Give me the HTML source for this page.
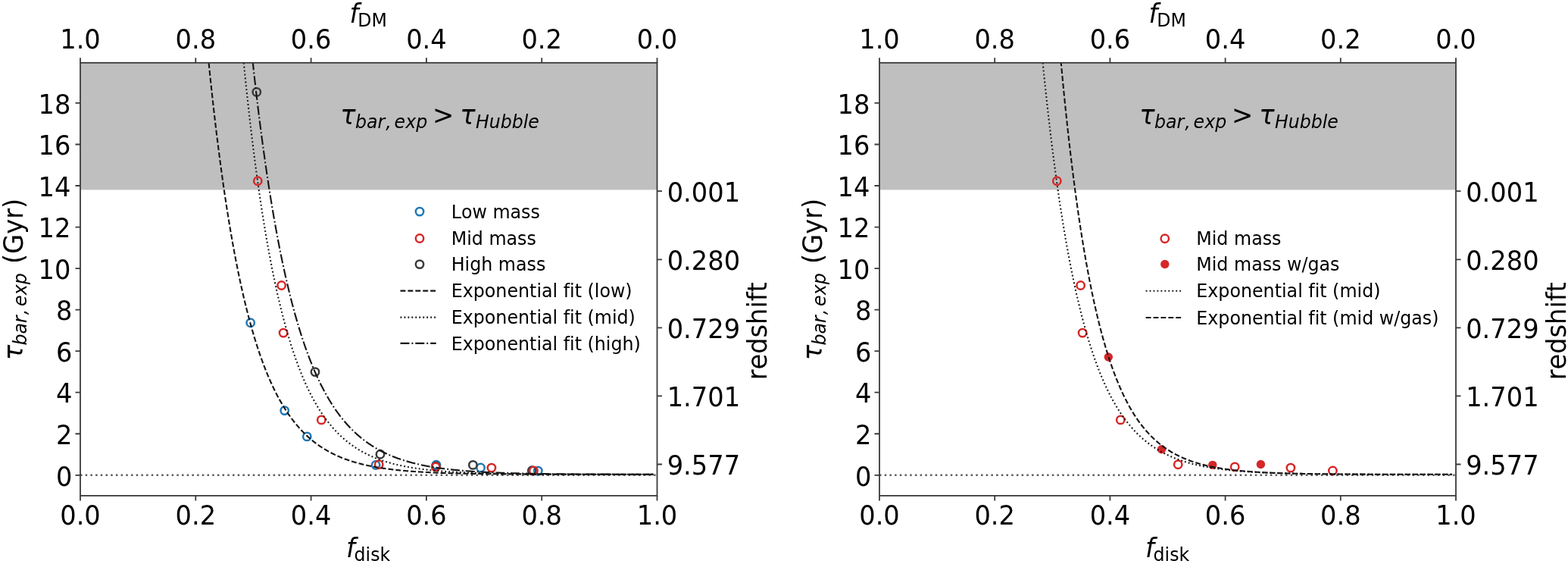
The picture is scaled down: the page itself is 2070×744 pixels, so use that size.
<!DOCTYPE html>
<html><head><meta charset="utf-8"><title>Bar formation timescale</title>
<style>
html,body{margin:0;padding:0;background:#fff;}
body{width:2070px;height:744px;overflow:hidden;}
svg{display:block;font-family:'DejaVu Sans','Liberation Sans',sans-serif;font-variant-ligatures:none;font-kerning:none;}
</style></head><body>
<svg xmlns="http://www.w3.org/2000/svg" width="2070" height="744" viewBox="0 0 2070 744">
<rect width="2070" height="744" fill="#fff"/>
<clipPath id="c0"><rect x="106.00" y="82.80" width="761.50" height="571.10"/></clipPath>
<rect x="106.00" y="82.80" width="761.50" height="167.60" fill="#bfbfbf"/>
<g clip-path="url(#c0)" fill="none">
<path d="M106.00 626.80 H867.50" stroke="#5e5e5e" stroke-width="2.4" stroke-dasharray="2.53 4.17"/>
<circle cx="330.70" cy="425.70" r="5.20" stroke="#1f77b4" stroke-width="2.50"/>
<circle cx="375.70" cy="541.60" r="5.20" stroke="#1f77b4" stroke-width="2.50"/>
<circle cx="405.30" cy="575.90" r="5.20" stroke="#1f77b4" stroke-width="2.50"/>
<circle cx="496.10" cy="613.50" r="5.20" stroke="#1f77b4" stroke-width="2.50"/>
<circle cx="575.90" cy="613.20" r="5.20" stroke="#1f77b4" stroke-width="2.50"/>
<circle cx="634.50" cy="617.00" r="5.20" stroke="#1f77b4" stroke-width="2.50"/>
<circle cx="710.30" cy="621.10" r="5.20" stroke="#1f77b4" stroke-width="2.50"/>
<circle cx="338.80" cy="121.40" r="5.20" stroke="#3a3a3a" stroke-width="2.50"/>
<circle cx="416.00" cy="490.60" r="5.20" stroke="#3a3a3a" stroke-width="2.50"/>
<circle cx="502.00" cy="599.20" r="5.20" stroke="#3a3a3a" stroke-width="2.50"/>
<circle cx="575.50" cy="615.20" r="5.20" stroke="#3a3a3a" stroke-width="2.50"/>
<circle cx="624.40" cy="613.40" r="5.20" stroke="#3a3a3a" stroke-width="2.50"/>
<circle cx="702.30" cy="620.80" r="5.20" stroke="#3a3a3a" stroke-width="2.50"/>
<circle cx="340.30" cy="238.70" r="5.20" stroke="#d62728" stroke-width="2.50"/>
<circle cx="371.60" cy="376.50" r="5.20" stroke="#d62728" stroke-width="2.50"/>
<circle cx="374.10" cy="439.10" r="5.20" stroke="#d62728" stroke-width="2.50"/>
<circle cx="424.30" cy="553.90" r="5.20" stroke="#d62728" stroke-width="2.50"/>
<circle cx="500.20" cy="612.70" r="5.20" stroke="#d62728" stroke-width="2.50"/>
<circle cx="575.20" cy="615.90" r="5.20" stroke="#d62728" stroke-width="2.50"/>
<circle cx="648.90" cy="617.10" r="5.20" stroke="#d62728" stroke-width="2.50"/>
<circle cx="704.40" cy="621.00" r="5.20" stroke="#d62728" stroke-width="2.50"/>
<path d="M269.04 13.99 L270.33 28.18 L271.61 42.03 L272.90 55.56 L274.18 68.78 L275.46 81.69 L276.75 94.30 L278.03 106.62 L279.32 118.65 L280.60 130.41 L281.89 141.89 L283.17 153.11 L284.46 164.06 L285.74 174.76 L287.03 185.22 L288.31 195.43 L289.60 205.41 L290.88 215.15 L292.17 224.67 L293.45 233.97 L294.73 243.05 L296.02 251.92 L297.30 260.59 L298.59 269.05 L299.87 277.32 L301.16 285.40 L302.44 293.29 L303.73 301.00 L305.01 308.53 L306.30 315.88 L307.58 323.06 L308.87 330.08 L310.15 336.94 L311.44 343.63 L312.72 350.17 L314.00 356.56 L315.29 362.80 L316.57 368.90 L317.86 374.86 L319.14 380.67 L320.43 386.35 L321.71 391.90 L323.00 397.33 L324.28 402.62 L325.57 407.80 L326.85 412.85 L328.14 417.79 L329.42 422.61 L330.70 427.32 L331.99 431.92 L333.27 436.41 L334.56 440.81 L335.84 445.09 L337.13 449.28 L338.41 453.38 L339.70 457.37 L340.98 461.28 L342.27 465.09 L343.55 468.82 L344.84 472.46 L346.12 476.01 L347.41 479.48 L348.69 482.88 L349.97 486.19 L351.26 489.43 L352.54 492.59 L353.83 495.68 L355.11 498.69 L356.40 501.64 L357.68 504.52 L358.97 507.33 L360.25 510.08 L361.54 512.76 L362.82 515.38 L364.11 517.94 L365.39 520.44 L366.68 522.89 L367.96 525.27 L369.24 527.60 L370.53 529.88 L371.81 532.10 L373.10 534.28 L374.38 536.40 L375.67 538.47 L376.95 540.50 L378.24 542.47 L379.52 544.41 L380.81 546.29 L382.09 548.14 L383.38 549.94 L384.66 551.70 L385.94 553.42 L387.23 555.10 L388.51 556.74 L389.80 558.34 L391.08 559.90 L392.37 561.43 L393.65 562.92 L394.94 564.38 L396.22 565.81 L397.51 567.20 L398.79 568.56 L400.08 569.88 L401.36 571.18 L402.65 572.45 L403.93 573.69 L405.21 574.89 L406.50 576.08 L407.78 577.23 L409.07 578.36 L410.35 579.46 L411.64 580.53 L412.92 581.58 L414.21 582.61 L415.49 583.61 L416.78 584.59 L418.06 585.54 L419.35 586.48 L420.63 587.39 L421.92 588.28 L423.20 589.15 L424.48 590.00 L425.77 590.83 L427.05 591.65 L428.34 592.44 L429.62 593.21 L430.91 593.97 L432.19 594.71 L433.48 595.43 L434.76 596.13 L436.05 596.82 L437.33 597.50 L438.62 598.15 L439.90 598.79 L441.18 599.42 L442.47 600.03 L443.75 600.63 L445.04 601.22 L446.32 601.79 L447.61 602.34 L448.89 602.89 L450.18 603.42 L451.46 603.94 L452.75 604.45 L454.03 604.94 L455.32 605.43 L456.60 605.90 L457.89 606.36 L459.17 606.82 L460.45 607.26 L461.74 607.69 L463.02 608.11 L464.31 608.52 L465.59 608.92 L466.88 609.31 L468.16 609.70 L469.45 610.07 L470.73 610.44 L472.02 610.79 L473.30 611.14 L474.59 611.48 L475.87 611.82 L477.16 612.14 L478.44 612.46 L479.72 612.77 L481.01 613.07 L482.29 613.37 L483.58 613.66 L484.86 613.94 L486.15 614.22 L487.43 614.49 L488.72 614.75 L490.00 615.01 L491.29 615.26 L492.57 615.50 L493.86 615.74 L495.14 615.98 L496.42 616.21 L497.71 616.43 L498.99 616.65 L500.28 616.86 L501.56 617.07 L502.85 617.27 L504.13 617.47 L505.42 617.66 L506.70 617.85 L507.99 618.04 L509.27 618.22 L510.56 618.40 L511.84 618.57 L513.13 618.74 L514.41 618.90 L515.69 619.06 L516.98 619.22 L518.26 619.37 L519.55 619.52 L520.83 619.67 L522.12 619.81 L523.40 619.95 L524.69 620.09 L525.97 620.22 L527.26 620.35 L528.54 620.48 L529.83 620.61 L531.11 620.73 L532.40 620.85 L533.68 620.96 L534.96 621.07 L536.25 621.19 L537.53 621.29 L538.82 621.40 L540.10 621.50 L541.39 621.60 L542.67 621.70 L543.96 621.80 L545.24 621.89 L546.53 621.98 L547.81 622.07 L549.10 622.16 L550.38 622.24 L551.66 622.33 L552.95 622.41 L554.23 622.49 L555.52 622.57 L556.80 622.64 L558.09 622.72 L559.37 622.79 L560.66 622.86 L561.94 622.93 L563.23 623.00 L564.51 623.06 L565.80 623.13 L567.08 623.19 L568.37 623.25 L569.65 623.31 L570.93 623.37 L572.22 623.43 L573.50 623.48 L574.79 623.54 L576.07 623.59 L577.36 623.65 L578.64 623.70 L579.93 623.75 L581.21 623.79 L582.50 623.84 L583.78 623.89 L585.07 623.93 L586.35 623.98 L587.64 624.02 L588.92 624.06 L590.20 624.11 L591.49 624.15 L592.77 624.18 L594.06 624.22 L595.34 624.26 L596.63 624.30 L597.91 624.33 L599.20 624.37 L600.48 624.40 L601.77 624.44 L603.05 624.47 L604.34 624.50 L605.62 624.53 L606.90 624.56 L608.19 624.59 L609.47 624.62 L610.76 624.65 L612.04 624.68 L613.33 624.70 L614.61 624.73 L615.90 624.76 L617.18 624.78 L618.47 624.81 L619.75 624.83 L621.04 624.85 L622.32 624.88 L623.61 624.90 L624.89 624.92 L626.17 624.94 L627.46 624.96 L628.74 624.98 L630.03 625.00 L631.31 625.02 L632.60 625.04 L633.88 625.06 L635.17 625.08 L636.45 625.10 L637.74 625.11 L639.02 625.13 L640.31 625.15 L641.59 625.16 L642.88 625.18 L644.16 625.20 L645.44 625.21 L646.73 625.23 L648.01 625.24 L649.30 625.25 L650.58 625.27 L651.87 625.28 L653.15 625.29 L654.44 625.31 L655.72 625.32 L657.01 625.33 L658.29 625.34 L659.58 625.35 L660.86 625.37 L662.14 625.38 L663.43 625.39 L664.71 625.40 L666.00 625.41 L667.28 625.42 L668.57 625.43 L669.85 625.44 L671.14 625.45 L672.42 625.46 L673.71 625.47 L674.99 625.48 L676.28 625.48 L677.56 625.49 L678.85 625.50 L680.13 625.51 L681.41 625.52 L682.70 625.52 L683.98 625.53 L685.27 625.54 L686.55 625.55 L687.84 625.55 L689.12 625.56 L690.41 625.57 L691.69 625.57 L692.98 625.58 L694.26 625.59 L695.55 625.59 L696.83 625.60 L698.11 625.60 L699.40 625.61 L700.68 625.61 L701.97 625.62 L703.25 625.62 L704.54 625.63 L705.82 625.63 L707.11 625.64 L708.39 625.64 L709.68 625.65 L710.96 625.65 L712.25 625.66 L713.53 625.66 L714.82 625.67 L716.10 625.67 L717.38 625.67 L718.67 625.68 L719.95 625.68 L721.24 625.69 L722.52 625.69 L723.81 625.69 L725.09 625.70 L726.38 625.70 L727.66 625.70 L728.95 625.71 L730.23 625.71 L731.52 625.71 L732.80 625.72 L734.09 625.72 L735.37 625.72 L736.65 625.73 L737.94 625.73 L739.22 625.73 L740.51 625.73 L741.79 625.74 L743.08 625.74 L744.36 625.74 L745.65 625.74 L746.93 625.75 L748.22 625.75 L749.50 625.75 L750.79 625.75 L752.07 625.75 L753.35 625.76 L754.64 625.76 L755.92 625.76 L757.21 625.76 L758.49 625.76 L759.78 625.77 L761.06 625.77 L762.35 625.77 L763.63 625.77 L764.92 625.77 L766.20 625.78 L767.49 625.78 L768.77 625.78 L770.06 625.78 L771.34 625.78 L772.62 625.78 L773.91 625.78 L775.19 625.79 L776.48 625.79 L777.76 625.79 L779.05 625.79 L780.33 625.79 L781.62 625.79 L782.90 625.79 L784.19 625.80 L785.47 625.80 L786.76 625.80 L788.04 625.80 L789.33 625.80 L790.61 625.80 L791.89 625.80 L793.18 625.80 L794.46 625.80 L795.75 625.80 L797.03 625.81 L798.32 625.81 L799.60 625.81 L800.89 625.81 L802.17 625.81 L803.46 625.81 L804.74 625.81 L806.03 625.81 L807.31 625.81 L808.59 625.81 L809.88 625.81 L811.16 625.81 L812.45 625.82 L813.73 625.82 L815.02 625.82 L816.30 625.82 L817.59 625.82 L818.87 625.82 L820.16 625.82 L821.44 625.82 L822.73 625.82 L824.01 625.82 L825.30 625.82 L826.58 625.82 L827.86 625.82 L829.15 625.82 L830.43 625.82 L831.72 625.82 L833.00 625.82 L834.29 625.83 L835.57 625.83 L836.86 625.83 L838.14 625.83 L839.43 625.83 L840.71 625.83 L842.00 625.83 L843.28 625.83 L844.57 625.83 L845.85 625.83 L847.13 625.83 L848.42 625.83 L849.70 625.83 L850.99 625.83 L852.27 625.83 L853.56 625.83 L854.84 625.83 L856.13 625.83 L857.41 625.83 L858.70 625.83 L859.98 625.83 L861.27 625.83 L862.55 625.83" stroke="#151515" stroke-width="2.10" stroke-dasharray="6.92 2.99"/>
<path d="M315.29 13.60 L316.57 27.99 L317.86 42.04 L319.14 55.76 L320.43 69.17 L321.71 82.25 L323.00 95.03 L324.28 107.51 L325.57 119.69 L326.85 131.59 L328.14 143.21 L329.42 154.55 L330.70 165.63 L331.99 176.45 L333.27 187.01 L334.56 197.33 L335.84 207.40 L337.13 217.23 L338.41 226.84 L339.70 236.22 L340.98 245.38 L342.27 254.32 L343.55 263.05 L344.84 271.58 L346.12 279.91 L347.41 288.04 L348.69 295.98 L349.97 303.73 L351.26 311.31 L352.54 318.70 L353.83 325.92 L355.11 332.97 L356.40 339.85 L357.68 346.58 L358.97 353.14 L360.25 359.55 L361.54 365.81 L362.82 371.92 L364.11 377.89 L365.39 383.72 L366.68 389.41 L367.96 394.97 L369.24 400.40 L370.53 405.70 L371.81 410.87 L373.10 415.92 L374.38 420.86 L375.67 425.68 L376.95 430.38 L378.24 434.98 L379.52 439.46 L380.81 443.84 L382.09 448.12 L383.38 452.30 L384.66 456.38 L385.94 460.36 L387.23 464.25 L388.51 468.05 L389.80 471.76 L391.08 475.38 L392.37 478.92 L393.65 482.37 L394.94 485.74 L396.22 489.04 L397.51 492.25 L398.79 495.39 L400.08 498.46 L401.36 501.45 L402.65 504.38 L403.93 507.23 L405.21 510.02 L406.50 512.74 L407.78 515.40 L409.07 518.00 L410.35 520.53 L411.64 523.01 L412.92 525.43 L414.21 527.79 L415.49 530.09 L416.78 532.34 L418.06 534.54 L419.35 536.69 L420.63 538.78 L421.92 540.83 L423.20 542.83 L424.48 544.78 L425.77 546.68 L427.05 548.55 L428.34 550.36 L429.62 552.14 L430.91 553.87 L432.19 555.56 L433.48 557.21 L434.76 558.83 L436.05 560.40 L437.33 561.94 L438.62 563.44 L439.90 564.91 L441.18 566.34 L442.47 567.74 L443.75 569.11 L445.04 570.44 L446.32 571.74 L447.61 573.01 L448.89 574.26 L450.18 575.47 L451.46 576.65 L452.75 577.81 L454.03 578.94 L455.32 580.04 L456.60 581.12 L457.89 582.17 L459.17 583.20 L460.45 584.20 L461.74 585.18 L463.02 586.13 L464.31 587.07 L465.59 587.98 L466.88 588.87 L468.16 589.74 L469.45 590.59 L470.73 591.41 L472.02 592.22 L473.30 593.01 L474.59 593.79 L475.87 594.54 L477.16 595.28 L478.44 595.99 L479.72 596.70 L481.01 597.38 L482.29 598.05 L483.58 598.70 L484.86 599.34 L486.15 599.96 L487.43 600.57 L488.72 601.17 L490.00 601.75 L491.29 602.31 L492.57 602.87 L493.86 603.41 L495.14 603.93 L496.42 604.45 L497.71 604.95 L498.99 605.44 L500.28 605.92 L501.56 606.39 L502.85 606.85 L504.13 607.30 L505.42 607.73 L506.70 608.16 L507.99 608.57 L509.27 608.98 L510.56 609.38 L511.84 609.76 L513.13 610.14 L514.41 610.51 L515.69 610.87 L516.98 611.22 L518.26 611.57 L519.55 611.90 L520.83 612.23 L522.12 612.55 L523.40 612.86 L524.69 613.17 L525.97 613.47 L527.26 613.76 L528.54 614.04 L529.83 614.32 L531.11 614.59 L532.40 614.85 L533.68 615.11 L534.96 615.36 L536.25 615.61 L537.53 615.85 L538.82 616.09 L540.10 616.32 L541.39 616.54 L542.67 616.76 L543.96 616.97 L545.24 617.18 L546.53 617.38 L547.81 617.58 L549.10 617.78 L550.38 617.97 L551.66 618.15 L552.95 618.33 L554.23 618.51 L555.52 618.68 L556.80 618.85 L558.09 619.01 L559.37 619.18 L560.66 619.33 L561.94 619.49 L563.23 619.63 L564.51 619.78 L565.80 619.92 L567.08 620.06 L568.37 620.20 L569.65 620.33 L570.93 620.46 L572.22 620.59 L573.50 620.71 L574.79 620.83 L576.07 620.95 L577.36 621.06 L578.64 621.18 L579.93 621.29 L581.21 621.39 L582.50 621.50 L583.78 621.60 L585.07 621.70 L586.35 621.80 L587.64 621.89 L588.92 621.99 L590.20 622.08 L591.49 622.17 L592.77 622.25 L594.06 622.34 L595.34 622.42 L596.63 622.50 L597.91 622.58 L599.20 622.65 L600.48 622.73 L601.77 622.80 L603.05 622.87 L604.34 622.94 L605.62 623.01 L606.90 623.08 L608.19 623.14 L609.47 623.21 L610.76 623.27 L612.04 623.33 L613.33 623.39 L614.61 623.45 L615.90 623.50 L617.18 623.56 L618.47 623.61 L619.75 623.66 L621.04 623.72 L622.32 623.77 L623.61 623.81 L624.89 623.86 L626.17 623.91 L627.46 623.95 L628.74 624.00 L630.03 624.04 L631.31 624.09 L632.60 624.13 L633.88 624.17 L635.17 624.21 L636.45 624.24 L637.74 624.28 L639.02 624.32 L640.31 624.36 L641.59 624.39 L642.88 624.42 L644.16 624.46 L645.44 624.49 L646.73 624.52 L648.01 624.55 L649.30 624.58 L650.58 624.61 L651.87 624.64 L653.15 624.67 L654.44 624.70 L655.72 624.73 L657.01 624.75 L658.29 624.78 L659.58 624.80 L660.86 624.83 L662.14 624.85 L663.43 624.87 L664.71 624.90 L666.00 624.92 L667.28 624.94 L668.57 624.96 L669.85 624.98 L671.14 625.00 L672.42 625.02 L673.71 625.04 L674.99 625.06 L676.28 625.08 L677.56 625.10 L678.85 625.12 L680.13 625.13 L681.41 625.15 L682.70 625.17 L683.98 625.18 L685.27 625.20 L686.55 625.21 L687.84 625.23 L689.12 625.24 L690.41 625.26 L691.69 625.27 L692.98 625.28 L694.26 625.30 L695.55 625.31 L696.83 625.32 L698.11 625.33 L699.40 625.35 L700.68 625.36 L701.97 625.37 L703.25 625.38 L704.54 625.39 L705.82 625.40 L707.11 625.41 L708.39 625.42 L709.68 625.43 L710.96 625.44 L712.25 625.45 L713.53 625.46 L714.82 625.47 L716.10 625.48 L717.38 625.49 L718.67 625.50 L719.95 625.50 L721.24 625.51 L722.52 625.52 L723.81 625.53 L725.09 625.54 L726.38 625.54 L727.66 625.55 L728.95 625.56 L730.23 625.56 L731.52 625.57 L732.80 625.58 L734.09 625.58 L735.37 625.59 L736.65 625.60 L737.94 625.60 L739.22 625.61 L740.51 625.61 L741.79 625.62 L743.08 625.62 L744.36 625.63 L745.65 625.63 L746.93 625.64 L748.22 625.64 L749.50 625.65 L750.79 625.65 L752.07 625.66 L753.35 625.66 L754.64 625.67 L755.92 625.67 L757.21 625.67 L758.49 625.68 L759.78 625.68 L761.06 625.69 L762.35 625.69 L763.63 625.69 L764.92 625.70 L766.20 625.70 L767.49 625.70 L768.77 625.71 L770.06 625.71 L771.34 625.71 L772.62 625.72 L773.91 625.72 L775.19 625.72 L776.48 625.73 L777.76 625.73 L779.05 625.73 L780.33 625.73 L781.62 625.74 L782.90 625.74 L784.19 625.74 L785.47 625.74 L786.76 625.75 L788.04 625.75 L789.33 625.75 L790.61 625.75 L791.89 625.76 L793.18 625.76 L794.46 625.76 L795.75 625.76 L797.03 625.76 L798.32 625.77 L799.60 625.77 L800.89 625.77 L802.17 625.77 L803.46 625.77 L804.74 625.77 L806.03 625.78 L807.31 625.78 L808.59 625.78 L809.88 625.78 L811.16 625.78 L812.45 625.78 L813.73 625.79 L815.02 625.79 L816.30 625.79 L817.59 625.79 L818.87 625.79 L820.16 625.79 L821.44 625.79 L822.73 625.79 L824.01 625.80 L825.30 625.80 L826.58 625.80 L827.86 625.80 L829.15 625.80 L830.43 625.80 L831.72 625.80 L833.00 625.80 L834.29 625.80 L835.57 625.81 L836.86 625.81 L838.14 625.81 L839.43 625.81 L840.71 625.81 L842.00 625.81 L843.28 625.81 L844.57 625.81 L845.85 625.81 L847.13 625.81 L848.42 625.81 L849.70 625.81 L850.99 625.82 L852.27 625.82 L853.56 625.82 L854.84 625.82 L856.13 625.82 L857.41 625.82 L858.70 625.82 L859.98 625.82 L861.27 625.82 L862.55 625.82" stroke="#151515" stroke-width="2.10" stroke-dasharray="1.87 3.09"/>
<path d="M325.57 1.69 L326.85 15.12 L328.14 28.27 L329.42 41.13 L330.70 53.72 L331.99 66.04 L333.27 78.09 L334.56 89.88 L335.84 101.42 L337.13 112.71 L338.41 123.75 L339.70 134.56 L340.98 145.14 L342.27 155.49 L343.55 165.61 L344.84 175.52 L346.12 185.21 L347.41 194.70 L348.69 203.98 L349.97 213.06 L351.26 221.95 L352.54 230.64 L353.83 239.15 L355.11 247.48 L356.40 255.62 L357.68 263.59 L358.97 271.39 L360.25 279.02 L361.54 286.49 L362.82 293.79 L364.11 300.94 L365.39 307.93 L366.68 314.78 L367.96 321.47 L369.24 328.03 L370.53 334.44 L371.81 340.71 L373.10 346.85 L374.38 352.85 L375.67 358.73 L376.95 364.48 L378.24 370.11 L379.52 375.61 L380.81 381.00 L382.09 386.27 L383.38 391.43 L384.66 396.47 L385.94 401.41 L387.23 406.24 L388.51 410.97 L389.80 415.60 L391.08 420.12 L392.37 424.55 L393.65 428.89 L394.94 433.13 L396.22 437.27 L397.51 441.33 L398.79 445.31 L400.08 449.19 L401.36 452.99 L402.65 456.72 L403.93 460.36 L405.21 463.92 L406.50 467.40 L407.78 470.82 L409.07 474.15 L410.35 477.42 L411.64 480.61 L412.92 483.74 L414.21 486.80 L415.49 489.79 L416.78 492.72 L418.06 495.59 L419.35 498.39 L420.63 501.14 L421.92 503.82 L423.20 506.45 L424.48 509.02 L425.77 511.53 L427.05 513.99 L428.34 516.40 L429.62 518.76 L430.91 521.06 L432.19 523.32 L433.48 525.52 L434.76 527.68 L436.05 529.80 L437.33 531.87 L438.62 533.89 L439.90 535.87 L441.18 537.80 L442.47 539.70 L443.75 541.55 L445.04 543.37 L446.32 545.14 L447.61 546.88 L448.89 548.58 L450.18 550.25 L451.46 551.87 L452.75 553.47 L454.03 555.02 L455.32 556.55 L456.60 558.04 L457.89 559.50 L459.17 560.93 L460.45 562.33 L461.74 563.69 L463.02 565.03 L464.31 566.34 L465.59 567.62 L466.88 568.87 L468.16 570.10 L469.45 571.30 L470.73 572.47 L472.02 573.62 L473.30 574.75 L474.59 575.85 L475.87 576.92 L477.16 577.98 L478.44 579.01 L479.72 580.02 L481.01 581.00 L482.29 581.97 L483.58 582.91 L484.86 583.84 L486.15 584.74 L487.43 585.63 L488.72 586.49 L490.00 587.34 L491.29 588.17 L492.57 588.98 L493.86 589.77 L495.14 590.55 L496.42 591.31 L497.71 592.05 L498.99 592.78 L500.28 593.49 L501.56 594.19 L502.85 594.87 L504.13 595.54 L505.42 596.19 L506.70 596.83 L507.99 597.45 L509.27 598.06 L510.56 598.66 L511.84 599.25 L513.13 599.82 L514.41 600.38 L515.69 600.93 L516.98 601.46 L518.26 601.99 L519.55 602.50 L520.83 603.01 L522.12 603.50 L523.40 603.98 L524.69 604.45 L525.97 604.91 L527.26 605.36 L528.54 605.80 L529.83 606.23 L531.11 606.65 L532.40 607.07 L533.68 607.47 L534.96 607.87 L536.25 608.25 L537.53 608.63 L538.82 609.00 L540.10 609.37 L541.39 609.72 L542.67 610.07 L543.96 610.41 L545.24 610.74 L546.53 611.07 L547.81 611.38 L549.10 611.69 L550.38 612.00 L551.66 612.30 L552.95 612.59 L554.23 612.87 L555.52 613.15 L556.80 613.43 L558.09 613.69 L559.37 613.96 L560.66 614.21 L561.94 614.46 L563.23 614.71 L564.51 614.95 L565.80 615.18 L567.08 615.41 L568.37 615.64 L569.65 615.86 L570.93 616.07 L572.22 616.28 L573.50 616.49 L574.79 616.69 L576.07 616.89 L577.36 617.08 L578.64 617.27 L579.93 617.45 L581.21 617.63 L582.50 617.81 L583.78 617.98 L585.07 618.15 L586.35 618.32 L587.64 618.48 L588.92 618.64 L590.20 618.79 L591.49 618.94 L592.77 619.09 L594.06 619.24 L595.34 619.38 L596.63 619.52 L597.91 619.66 L599.20 619.79 L600.48 619.92 L601.77 620.05 L603.05 620.17 L604.34 620.29 L605.62 620.41 L606.90 620.53 L608.19 620.65 L609.47 620.76 L610.76 620.87 L612.04 620.97 L613.33 621.08 L614.61 621.18 L615.90 621.28 L617.18 621.38 L618.47 621.48 L619.75 621.57 L621.04 621.66 L622.32 621.75 L623.61 621.84 L624.89 621.93 L626.17 622.01 L627.46 622.09 L628.74 622.17 L630.03 622.25 L631.31 622.33 L632.60 622.41 L633.88 622.48 L635.17 622.55 L636.45 622.62 L637.74 622.69 L639.02 622.76 L640.31 622.83 L641.59 622.89 L642.88 622.96 L644.16 623.02 L645.44 623.08 L646.73 623.14 L648.01 623.20 L649.30 623.25 L650.58 623.31 L651.87 623.36 L653.15 623.42 L654.44 623.47 L655.72 623.52 L657.01 623.57 L658.29 623.62 L659.58 623.67 L660.86 623.71 L662.14 623.76 L663.43 623.81 L664.71 623.85 L666.00 623.89 L667.28 623.93 L668.57 623.98 L669.85 624.02 L671.14 624.06 L672.42 624.09 L673.71 624.13 L674.99 624.17 L676.28 624.20 L677.56 624.24 L678.85 624.27 L680.13 624.31 L681.41 624.34 L682.70 624.37 L683.98 624.41 L685.27 624.44 L686.55 624.47 L687.84 624.50 L689.12 624.53 L690.41 624.55 L691.69 624.58 L692.98 624.61 L694.26 624.64 L695.55 624.66 L696.83 624.69 L698.11 624.71 L699.40 624.74 L700.68 624.76 L701.97 624.78 L703.25 624.81 L704.54 624.83 L705.82 624.85 L707.11 624.87 L708.39 624.89 L709.68 624.91 L710.96 624.93 L712.25 624.95 L713.53 624.97 L714.82 624.99 L716.10 625.01 L717.38 625.03 L718.67 625.05 L719.95 625.06 L721.24 625.08 L722.52 625.10 L723.81 625.11 L725.09 625.13 L726.38 625.14 L727.66 625.16 L728.95 625.17 L730.23 625.19 L731.52 625.20 L732.80 625.22 L734.09 625.23 L735.37 625.24 L736.65 625.26 L737.94 625.27 L739.22 625.28 L740.51 625.29 L741.79 625.30 L743.08 625.32 L744.36 625.33 L745.65 625.34 L746.93 625.35 L748.22 625.36 L749.50 625.37 L750.79 625.38 L752.07 625.39 L753.35 625.40 L754.64 625.41 L755.92 625.42 L757.21 625.43 L758.49 625.44 L759.78 625.45 L761.06 625.46 L762.35 625.46 L763.63 625.47 L764.92 625.48 L766.20 625.49 L767.49 625.50 L768.77 625.50 L770.06 625.51 L771.34 625.52 L772.62 625.52 L773.91 625.53 L775.19 625.54 L776.48 625.55 L777.76 625.55 L779.05 625.56 L780.33 625.56 L781.62 625.57 L782.90 625.58 L784.19 625.58 L785.47 625.59 L786.76 625.59 L788.04 625.60 L789.33 625.60 L790.61 625.61 L791.89 625.61 L793.18 625.62 L794.46 625.62 L795.75 625.63 L797.03 625.63 L798.32 625.64 L799.60 625.64 L800.89 625.65 L802.17 625.65 L803.46 625.66 L804.74 625.66 L806.03 625.66 L807.31 625.67 L808.59 625.67 L809.88 625.67 L811.16 625.68 L812.45 625.68 L813.73 625.69 L815.02 625.69 L816.30 625.69 L817.59 625.70 L818.87 625.70 L820.16 625.70 L821.44 625.71 L822.73 625.71 L824.01 625.71 L825.30 625.71 L826.58 625.72 L827.86 625.72 L829.15 625.72 L830.43 625.73 L831.72 625.73 L833.00 625.73 L834.29 625.73 L835.57 625.74 L836.86 625.74 L838.14 625.74 L839.43 625.74 L840.71 625.74 L842.00 625.75 L843.28 625.75 L844.57 625.75 L845.85 625.75 L847.13 625.75 L848.42 625.76 L849.70 625.76 L850.99 625.76 L852.27 625.76 L853.56 625.76 L854.84 625.77 L856.13 625.77 L857.41 625.77 L858.70 625.77 L859.98 625.77 L861.27 625.77 L862.55 625.78" stroke="#151515" stroke-width="2.10" stroke-dasharray="11.97 2.99 1.87 2.99"/>
</g>
<rect x="106.00" y="82.80" width="761.50" height="571.10" fill="none" stroke="#3a3a3a" stroke-width="1.80"/>
<path d="M106.00 653.90 v6.50 M106.00 82.80 v-6.50 M258.30 653.90 v6.50 M258.30 82.80 v-6.50 M410.60 653.90 v6.50 M410.60 82.80 v-6.50 M562.90 653.90 v6.50 M562.90 82.80 v-6.50 M715.20 653.90 v6.50 M715.20 82.80 v-6.50 M867.50 653.90 v6.50 M867.50 82.80 v-6.50 M106.00 626.80 h-6.50 M106.00 572.26 h-6.50 M106.00 517.72 h-6.50 M106.00 463.18 h-6.50 M106.00 408.64 h-6.50 M106.00 354.10 h-6.50 M106.00 299.56 h-6.50 M106.00 245.02 h-6.50 M106.00 190.48 h-6.50 M106.00 135.94 h-6.50 M867.50 252.20 h6.50 M867.50 342.28 h6.50 M867.50 432.36 h6.50 M867.50 522.44 h6.50 M867.50 612.52 h6.50" stroke="#3a3a3a" stroke-width="1.80" fill="none"/>
<g font-size="35.0">
<text transform="translate(106.00 692.20) scale(0.9620 1)" text-anchor="middle">0.0</text>
<text transform="translate(106.00 64.30) scale(0.9620 1)" text-anchor="middle">1.0</text>
<text transform="translate(258.30 692.20) scale(0.9620 1)" text-anchor="middle">0.2</text>
<text transform="translate(258.30 64.30) scale(0.9620 1)" text-anchor="middle">0.8</text>
<text transform="translate(410.60 692.20) scale(0.9620 1)" text-anchor="middle">0.4</text>
<text transform="translate(410.60 64.30) scale(0.9620 1)" text-anchor="middle">0.6</text>
<text transform="translate(562.90 692.20) scale(0.9620 1)" text-anchor="middle">0.6</text>
<text transform="translate(562.90 64.30) scale(0.9620 1)" text-anchor="middle">0.4</text>
<text transform="translate(715.20 692.20) scale(0.9620 1)" text-anchor="middle">0.8</text>
<text transform="translate(715.20 64.30) scale(0.9620 1)" text-anchor="middle">0.2</text>
<text transform="translate(867.50 692.20) scale(0.9620 1)" text-anchor="middle">1.0</text>
<text transform="translate(867.50 64.30) scale(0.9620 1)" text-anchor="middle">0.0</text>
<text transform="translate(95.30 640.50) scale(0.9620 1)" text-anchor="end">0</text>
<text transform="translate(95.30 585.96) scale(0.9620 1)" text-anchor="end">2</text>
<text transform="translate(95.30 531.42) scale(0.9620 1)" text-anchor="end">4</text>
<text transform="translate(95.30 476.88) scale(0.9620 1)" text-anchor="end">6</text>
<text transform="translate(95.30 422.34) scale(0.9620 1)" text-anchor="end">8</text>
<text transform="translate(93.40 367.80) scale(0.9620 1)" text-anchor="end">10</text>
<text transform="translate(93.40 313.26) scale(0.9620 1)" text-anchor="end">12</text>
<text transform="translate(93.40 258.72) scale(0.9620 1)" text-anchor="end">14</text>
<text transform="translate(93.40 204.18) scale(0.9620 1)" text-anchor="end">16</text>
<text transform="translate(93.40 149.64) scale(0.9620 1)" text-anchor="end">18</text>
<text transform="translate(880.70 265.80) scale(0.9620 1)">0.001</text>
<text transform="translate(880.70 355.88) scale(0.9620 1)">0.280</text>
<text transform="translate(880.70 445.96) scale(0.9620 1)">0.729</text>
<text transform="translate(880.70 536.04) scale(0.9620 1)">1.701</text>
<text transform="translate(880.70 626.12) scale(0.9620 1)">9.577</text>
<text transform="translate(463.90 29.90) scale(0.9650 1)" xml:space="preserve"><tspan x="-2.38" y="0.00" font-size="35.0" font-style="italic">f</tspan><tspan x="8.68" y="4.60" font-size="24.5">DM</tspan></text>
<text transform="translate(459.20 734.80) scale(0.9650 1)" xml:space="preserve"><tspan x="-2.38" y="0.00" font-size="35.0" font-style="italic">f</tspan><tspan x="8.70" y="5.20" font-size="24.5">disk</tspan></text>
<text transform="translate(29.60 472.40) rotate(-90) scale(0.9650 1)" xml:space="preserve"><tspan x="-2.96" y="0.00" font-size="35.0" font-style="italic">τ</tspan><tspan x="17.46" y="5.10" font-size="24.5" font-style="italic">bar</tspan><tspan x="59.31" y="5.10" font-size="24.5" font-style="italic">, </tspan><tspan x="71.00" y="5.10" font-size="24.5" font-style="italic">exp </tspan><tspan x="128.81" y="0.00" font-size="35.0">(Gyr)</tspan></text>
<text transform="translate(1012.30 501.36) rotate(-90) scale(0.9620 1)" font-size="35.0">redshift</text>
<text transform="translate(452.10 163.90) scale(0.9650 1)" xml:space="preserve"><tspan x="-2.96" y="0.00" font-size="35.0" font-style="italic">τ</tspan><tspan x="17.46" y="4.80" font-size="24.5" font-style="italic">bar</tspan><tspan x="59.31" y="4.80" font-size="24.5" font-style="italic">, </tspan><tspan x="71.00" y="4.80" font-size="24.5" font-style="italic">exp </tspan><tspan x="123.34" y="0.00" font-size="35.0">&gt; </tspan><tspan x="160.77" y="0.00" font-size="35.0" font-style="italic">τ</tspan><tspan x="182.35" y="4.80" font-size="24.5" font-style="italic">Hubble</tspan></text>
</g>
<g font-size="24.0">
<circle cx="554.00" cy="279.10" r="5.20" stroke="#1f77b4" stroke-width="2.50" fill="none"/>
<text transform="translate(595.67 287.70) scale(0.9900 1)" font-size="24.0">Low mass</text>
<circle cx="554.00" cy="314.50" r="5.20" stroke="#d62728" stroke-width="2.50" fill="none"/>
<text transform="translate(595.67 323.10) scale(0.9900 1)" font-size="24.0">Mid mass</text>
<circle cx="554.00" cy="348.60" r="5.20" stroke="#3a3a3a" stroke-width="2.50" fill="none"/>
<text transform="translate(595.67 357.20) scale(0.9900 1)" font-size="24.0">High mass</text>
<path d="M528.50 383.60 h47.2" stroke="#151515" stroke-width="2.10" stroke-dasharray="6.92 2.99" fill="none"/>
<text transform="translate(595.67 392.20) scale(0.9900 1)" font-size="24.0">Exponential fit (low)</text>
<path d="M528.50 418.60 h47.2" stroke="#151515" stroke-width="2.10" stroke-dasharray="1.87 3.09" fill="none"/>
<text transform="translate(595.67 427.20) scale(0.9900 1)" font-size="24.0">Exponential fit (mid)</text>
<path d="M528.50 452.90 h47.2" stroke="#151515" stroke-width="2.10" stroke-dasharray="11.97 2.99 1.87 2.99" fill="none"/>
<text transform="translate(595.67 461.50) scale(0.9900 1)" font-size="24.0">Exponential fit (high)</text>
</g>
<clipPath id="c1"><rect x="1161.00" y="82.80" width="761.00" height="571.10"/></clipPath>
<rect x="1161.00" y="82.80" width="761.00" height="167.60" fill="#bfbfbf"/>
<g clip-path="url(#c1)" fill="none">
<path d="M1161.00 626.80 H1922.00" stroke="#5e5e5e" stroke-width="2.4" stroke-dasharray="2.53 4.17"/>
<circle cx="1395.30" cy="238.70" r="5.20" stroke="#d62728" stroke-width="2.50"/>
<circle cx="1426.60" cy="376.50" r="5.20" stroke="#d62728" stroke-width="2.50"/>
<circle cx="1429.10" cy="439.10" r="5.20" stroke="#d62728" stroke-width="2.50"/>
<circle cx="1479.30" cy="553.90" r="5.20" stroke="#d62728" stroke-width="2.50"/>
<circle cx="1555.20" cy="612.70" r="5.20" stroke="#d62728" stroke-width="2.50"/>
<circle cx="1630.20" cy="615.90" r="5.20" stroke="#d62728" stroke-width="2.50"/>
<circle cx="1703.90" cy="617.10" r="5.20" stroke="#d62728" stroke-width="2.50"/>
<circle cx="1759.40" cy="621.00" r="5.20" stroke="#d62728" stroke-width="2.50"/>
<circle cx="1463.30" cy="471.00" r="5.7" fill="#d62728"/>
<circle cx="1533.50" cy="592.80" r="5.7" fill="#d62728"/>
<circle cx="1600.80" cy="613.40" r="5.7" fill="#d62728"/>
<circle cx="1664.40" cy="612.50" r="5.7" fill="#d62728"/>
<path d="M1370.15 13.60 L1371.44 27.99 L1372.72 42.04 L1374.00 55.76 L1375.29 69.17 L1376.57 82.25 L1377.85 95.03 L1379.14 107.51 L1380.42 119.69 L1381.71 131.59 L1382.99 143.21 L1384.27 154.55 L1385.56 165.63 L1386.84 176.45 L1388.13 187.01 L1389.41 197.33 L1390.69 207.40 L1391.98 217.23 L1393.26 226.84 L1394.54 236.22 L1395.83 245.38 L1397.11 254.32 L1398.40 263.05 L1399.68 271.58 L1400.96 279.91 L1402.25 288.04 L1403.53 295.98 L1404.81 303.73 L1406.10 311.31 L1407.38 318.70 L1408.67 325.92 L1409.95 332.97 L1411.23 339.85 L1412.52 346.58 L1413.80 353.14 L1415.08 359.55 L1416.37 365.81 L1417.65 371.92 L1418.94 377.89 L1420.22 383.72 L1421.50 389.41 L1422.79 394.97 L1424.07 400.40 L1425.36 405.70 L1426.64 410.87 L1427.92 415.92 L1429.21 420.86 L1430.49 425.68 L1431.77 430.38 L1433.06 434.98 L1434.34 439.46 L1435.63 443.84 L1436.91 448.12 L1438.19 452.30 L1439.48 456.38 L1440.76 460.36 L1442.04 464.25 L1443.33 468.05 L1444.61 471.76 L1445.90 475.38 L1447.18 478.92 L1448.46 482.37 L1449.75 485.74 L1451.03 489.04 L1452.32 492.25 L1453.60 495.39 L1454.88 498.46 L1456.17 501.45 L1457.45 504.38 L1458.73 507.23 L1460.02 510.02 L1461.30 512.74 L1462.59 515.40 L1463.87 518.00 L1465.15 520.53 L1466.44 523.01 L1467.72 525.43 L1469.00 527.79 L1470.29 530.09 L1471.57 532.34 L1472.86 534.54 L1474.14 536.69 L1475.42 538.78 L1476.71 540.83 L1477.99 542.83 L1479.28 544.78 L1480.56 546.68 L1481.84 548.55 L1483.13 550.36 L1484.41 552.14 L1485.69 553.87 L1486.98 555.56 L1488.26 557.21 L1489.55 558.83 L1490.83 560.40 L1492.11 561.94 L1493.40 563.44 L1494.68 564.91 L1495.96 566.34 L1497.25 567.74 L1498.53 569.11 L1499.82 570.44 L1501.10 571.74 L1502.38 573.01 L1503.67 574.26 L1504.95 575.47 L1506.24 576.65 L1507.52 577.81 L1508.80 578.94 L1510.09 580.04 L1511.37 581.12 L1512.65 582.17 L1513.94 583.20 L1515.22 584.20 L1516.51 585.18 L1517.79 586.13 L1519.07 587.07 L1520.36 587.98 L1521.64 588.87 L1522.92 589.74 L1524.21 590.59 L1525.49 591.41 L1526.78 592.22 L1528.06 593.01 L1529.34 593.79 L1530.63 594.54 L1531.91 595.28 L1533.20 595.99 L1534.48 596.70 L1535.76 597.38 L1537.05 598.05 L1538.33 598.70 L1539.61 599.34 L1540.90 599.96 L1542.18 600.57 L1543.47 601.17 L1544.75 601.75 L1546.03 602.31 L1547.32 602.87 L1548.60 603.41 L1549.88 603.93 L1551.17 604.45 L1552.45 604.95 L1553.74 605.44 L1555.02 605.92 L1556.30 606.39 L1557.59 606.85 L1558.87 607.30 L1560.16 607.73 L1561.44 608.16 L1562.72 608.57 L1564.01 608.98 L1565.29 609.38 L1566.57 609.76 L1567.86 610.14 L1569.14 610.51 L1570.43 610.87 L1571.71 611.22 L1572.99 611.57 L1574.28 611.90 L1575.56 612.23 L1576.84 612.55 L1578.13 612.86 L1579.41 613.17 L1580.70 613.47 L1581.98 613.76 L1583.26 614.04 L1584.55 614.32 L1585.83 614.59 L1587.12 614.85 L1588.40 615.11 L1589.68 615.36 L1590.97 615.61 L1592.25 615.85 L1593.53 616.09 L1594.82 616.32 L1596.10 616.54 L1597.39 616.76 L1598.67 616.97 L1599.95 617.18 L1601.24 617.38 L1602.52 617.58 L1603.80 617.78 L1605.09 617.97 L1606.37 618.15 L1607.66 618.33 L1608.94 618.51 L1610.22 618.68 L1611.51 618.85 L1612.79 619.01 L1614.08 619.18 L1615.36 619.33 L1616.64 619.49 L1617.93 619.63 L1619.21 619.78 L1620.49 619.92 L1621.78 620.06 L1623.06 620.20 L1624.35 620.33 L1625.63 620.46 L1626.91 620.59 L1628.20 620.71 L1629.48 620.83 L1630.76 620.95 L1632.05 621.06 L1633.33 621.18 L1634.62 621.29 L1635.90 621.39 L1637.18 621.50 L1638.47 621.60 L1639.75 621.70 L1641.03 621.80 L1642.32 621.89 L1643.60 621.99 L1644.89 622.08 L1646.17 622.17 L1647.45 622.25 L1648.74 622.34 L1650.02 622.42 L1651.31 622.50 L1652.59 622.58 L1653.87 622.65 L1655.16 622.73 L1656.44 622.80 L1657.72 622.87 L1659.01 622.94 L1660.29 623.01 L1661.58 623.08 L1662.86 623.14 L1664.14 623.21 L1665.43 623.27 L1666.71 623.33 L1667.99 623.39 L1669.28 623.45 L1670.56 623.50 L1671.85 623.56 L1673.13 623.61 L1674.41 623.66 L1675.70 623.72 L1676.98 623.77 L1678.27 623.81 L1679.55 623.86 L1680.83 623.91 L1682.12 623.95 L1683.40 624.00 L1684.68 624.04 L1685.97 624.09 L1687.25 624.13 L1688.54 624.17 L1689.82 624.21 L1691.10 624.24 L1692.39 624.28 L1693.67 624.32 L1694.95 624.36 L1696.24 624.39 L1697.52 624.42 L1698.81 624.46 L1700.09 624.49 L1701.37 624.52 L1702.66 624.55 L1703.94 624.58 L1705.23 624.61 L1706.51 624.64 L1707.79 624.67 L1709.08 624.70 L1710.36 624.73 L1711.64 624.75 L1712.93 624.78 L1714.21 624.80 L1715.50 624.83 L1716.78 624.85 L1718.06 624.87 L1719.35 624.90 L1720.63 624.92 L1721.91 624.94 L1723.20 624.96 L1724.48 624.98 L1725.77 625.00 L1727.05 625.02 L1728.33 625.04 L1729.62 625.06 L1730.90 625.08 L1732.19 625.10 L1733.47 625.12 L1734.75 625.13 L1736.04 625.15 L1737.32 625.17 L1738.60 625.18 L1739.89 625.20 L1741.17 625.21 L1742.46 625.23 L1743.74 625.24 L1745.02 625.26 L1746.31 625.27 L1747.59 625.28 L1748.87 625.30 L1750.16 625.31 L1751.44 625.32 L1752.73 625.33 L1754.01 625.35 L1755.29 625.36 L1756.58 625.37 L1757.86 625.38 L1759.15 625.39 L1760.43 625.40 L1761.71 625.41 L1763.00 625.42 L1764.28 625.43 L1765.56 625.44 L1766.85 625.45 L1768.13 625.46 L1769.42 625.47 L1770.70 625.48 L1771.98 625.49 L1773.27 625.50 L1774.55 625.50 L1775.83 625.51 L1777.12 625.52 L1778.40 625.53 L1779.69 625.54 L1780.97 625.54 L1782.25 625.55 L1783.54 625.56 L1784.82 625.56 L1786.11 625.57 L1787.39 625.58 L1788.67 625.58 L1789.96 625.59 L1791.24 625.60 L1792.52 625.60 L1793.81 625.61 L1795.09 625.61 L1796.38 625.62 L1797.66 625.62 L1798.94 625.63 L1800.23 625.63 L1801.51 625.64 L1802.79 625.64 L1804.08 625.65 L1805.36 625.65 L1806.65 625.66 L1807.93 625.66 L1809.21 625.67 L1810.50 625.67 L1811.78 625.67 L1813.07 625.68 L1814.35 625.68 L1815.63 625.69 L1816.92 625.69 L1818.20 625.69 L1819.48 625.70 L1820.77 625.70 L1822.05 625.70 L1823.34 625.71 L1824.62 625.71 L1825.90 625.71 L1827.19 625.72 L1828.47 625.72 L1829.75 625.72 L1831.04 625.73 L1832.32 625.73 L1833.61 625.73 L1834.89 625.73 L1836.17 625.74 L1837.46 625.74 L1838.74 625.74 L1840.03 625.74 L1841.31 625.75 L1842.59 625.75 L1843.88 625.75 L1845.16 625.75 L1846.44 625.76 L1847.73 625.76 L1849.01 625.76 L1850.30 625.76 L1851.58 625.76 L1852.86 625.77 L1854.15 625.77 L1855.43 625.77 L1856.71 625.77 L1858.00 625.77 L1859.28 625.77 L1860.57 625.78 L1861.85 625.78 L1863.13 625.78 L1864.42 625.78 L1865.70 625.78 L1866.99 625.78 L1868.27 625.79 L1869.55 625.79 L1870.84 625.79 L1872.12 625.79 L1873.40 625.79 L1874.69 625.79 L1875.97 625.79 L1877.26 625.79 L1878.54 625.80 L1879.82 625.80 L1881.11 625.80 L1882.39 625.80 L1883.67 625.80 L1884.96 625.80 L1886.24 625.80 L1887.53 625.80 L1888.81 625.80 L1890.09 625.81 L1891.38 625.81 L1892.66 625.81 L1893.94 625.81 L1895.23 625.81 L1896.51 625.81 L1897.80 625.81 L1899.08 625.81 L1900.36 625.81 L1901.65 625.81 L1902.93 625.81 L1904.22 625.81 L1905.50 625.82 L1906.78 625.82 L1908.07 625.82 L1909.35 625.82 L1910.63 625.82 L1911.92 625.82 L1913.20 625.82 L1914.49 625.82 L1915.77 625.82 L1917.05 625.82" stroke="#151515" stroke-width="2.10" stroke-dasharray="1.87 3.09"/>
<path d="M1394.54 11.27 L1395.83 26.83 L1397.11 42.00 L1398.40 56.78 L1399.68 71.18 L1400.96 85.23 L1402.25 98.91 L1403.53 112.25 L1404.81 125.25 L1406.10 137.93 L1407.38 150.28 L1408.67 162.32 L1409.95 174.05 L1411.23 185.49 L1412.52 196.64 L1413.80 207.51 L1415.08 218.10 L1416.37 228.42 L1417.65 238.48 L1418.94 248.29 L1420.22 257.85 L1421.50 267.16 L1422.79 276.24 L1424.07 285.09 L1425.36 293.72 L1426.64 302.13 L1427.92 310.32 L1429.21 318.31 L1430.49 326.10 L1431.77 333.69 L1433.06 341.08 L1434.34 348.29 L1435.63 355.32 L1436.91 362.17 L1438.19 368.84 L1439.48 375.35 L1440.76 381.69 L1442.04 387.87 L1443.33 393.90 L1444.61 399.77 L1445.90 405.49 L1447.18 411.07 L1448.46 416.51 L1449.75 421.81 L1451.03 426.97 L1452.32 432.01 L1453.60 436.92 L1454.88 441.70 L1456.17 446.36 L1457.45 450.90 L1458.73 455.33 L1460.02 459.65 L1461.30 463.86 L1462.59 467.96 L1463.87 471.96 L1465.15 475.85 L1466.44 479.65 L1467.72 483.35 L1469.00 486.96 L1470.29 490.47 L1471.57 493.90 L1472.86 497.24 L1474.14 500.50 L1475.42 503.67 L1476.71 506.76 L1477.99 509.78 L1479.28 512.72 L1480.56 515.58 L1481.84 518.37 L1483.13 521.09 L1484.41 523.74 L1485.69 526.33 L1486.98 528.85 L1488.26 531.30 L1489.55 533.70 L1490.83 536.03 L1492.11 538.30 L1493.40 540.52 L1494.68 542.68 L1495.96 544.79 L1497.25 546.84 L1498.53 548.84 L1499.82 550.79 L1501.10 552.69 L1502.38 554.54 L1503.67 556.35 L1504.95 558.11 L1506.24 559.82 L1507.52 561.49 L1508.80 563.12 L1510.09 564.71 L1511.37 566.26 L1512.65 567.77 L1513.94 569.24 L1515.22 570.67 L1516.51 572.07 L1517.79 573.43 L1519.07 574.75 L1520.36 576.05 L1521.64 577.31 L1522.92 578.54 L1524.21 579.73 L1525.49 580.90 L1526.78 582.04 L1528.06 583.15 L1529.34 584.23 L1530.63 585.28 L1531.91 586.31 L1533.20 587.31 L1534.48 588.29 L1535.76 589.24 L1537.05 590.16 L1538.33 591.07 L1539.61 591.95 L1540.90 592.81 L1542.18 593.64 L1543.47 594.46 L1544.75 595.25 L1546.03 596.03 L1547.32 596.78 L1548.60 597.52 L1549.88 598.23 L1551.17 598.93 L1552.45 599.62 L1553.74 600.28 L1555.02 600.93 L1556.30 601.56 L1557.59 602.17 L1558.87 602.77 L1560.16 603.36 L1561.44 603.93 L1562.72 604.48 L1564.01 605.02 L1565.29 605.55 L1566.57 606.06 L1567.86 606.56 L1569.14 607.05 L1570.43 607.53 L1571.71 607.99 L1572.99 608.44 L1574.28 608.88 L1575.56 609.31 L1576.84 609.73 L1578.13 610.14 L1579.41 610.54 L1580.70 610.92 L1581.98 611.30 L1583.26 611.67 L1584.55 612.03 L1585.83 612.38 L1587.12 612.72 L1588.40 613.05 L1589.68 613.38 L1590.97 613.69 L1592.25 614.00 L1593.53 614.30 L1594.82 614.59 L1596.10 614.88 L1597.39 615.15 L1598.67 615.42 L1599.95 615.69 L1601.24 615.95 L1602.52 616.20 L1603.80 616.44 L1605.09 616.68 L1606.37 616.91 L1607.66 617.14 L1608.94 617.36 L1610.22 617.57 L1611.51 617.78 L1612.79 617.99 L1614.08 618.19 L1615.36 618.38 L1616.64 618.57 L1617.93 618.75 L1619.21 618.93 L1620.49 619.11 L1621.78 619.28 L1623.06 619.44 L1624.35 619.61 L1625.63 619.76 L1626.91 619.92 L1628.20 620.07 L1629.48 620.21 L1630.76 620.36 L1632.05 620.50 L1633.33 620.63 L1634.62 620.76 L1635.90 620.89 L1637.18 621.02 L1638.47 621.14 L1639.75 621.26 L1641.03 621.37 L1642.32 621.49 L1643.60 621.60 L1644.89 621.71 L1646.17 621.81 L1647.45 621.91 L1648.74 622.01 L1650.02 622.11 L1651.31 622.20 L1652.59 622.30 L1653.87 622.39 L1655.16 622.47 L1656.44 622.56 L1657.72 622.64 L1659.01 622.72 L1660.29 622.80 L1661.58 622.88 L1662.86 622.95 L1664.14 623.03 L1665.43 623.10 L1666.71 623.17 L1667.99 623.24 L1669.28 623.30 L1670.56 623.37 L1671.85 623.43 L1673.13 623.49 L1674.41 623.55 L1675.70 623.61 L1676.98 623.66 L1678.27 623.72 L1679.55 623.77 L1680.83 623.83 L1682.12 623.88 L1683.40 623.93 L1684.68 623.98 L1685.97 624.02 L1687.25 624.07 L1688.54 624.11 L1689.82 624.16 L1691.10 624.20 L1692.39 624.24 L1693.67 624.28 L1694.95 624.32 L1696.24 624.36 L1697.52 624.40 L1698.81 624.44 L1700.09 624.47 L1701.37 624.51 L1702.66 624.54 L1703.94 624.57 L1705.23 624.61 L1706.51 624.64 L1707.79 624.67 L1709.08 624.70 L1710.36 624.73 L1711.64 624.75 L1712.93 624.78 L1714.21 624.81 L1715.50 624.84 L1716.78 624.86 L1718.06 624.89 L1719.35 624.91 L1720.63 624.93 L1721.91 624.96 L1723.20 624.98 L1724.48 625.00 L1725.77 625.02 L1727.05 625.04 L1728.33 625.06 L1729.62 625.08 L1730.90 625.10 L1732.19 625.12 L1733.47 625.14 L1734.75 625.16 L1736.04 625.18 L1737.32 625.19 L1738.60 625.21 L1739.89 625.22 L1741.17 625.24 L1742.46 625.26 L1743.74 625.27 L1745.02 625.29 L1746.31 625.30 L1747.59 625.31 L1748.87 625.33 L1750.16 625.34 L1751.44 625.35 L1752.73 625.37 L1754.01 625.38 L1755.29 625.39 L1756.58 625.40 L1757.86 625.41 L1759.15 625.42 L1760.43 625.43 L1761.71 625.44 L1763.00 625.45 L1764.28 625.46 L1765.56 625.47 L1766.85 625.48 L1768.13 625.49 L1769.42 625.50 L1770.70 625.51 L1771.98 625.52 L1773.27 625.53 L1774.55 625.53 L1775.83 625.54 L1777.12 625.55 L1778.40 625.56 L1779.69 625.57 L1780.97 625.57 L1782.25 625.58 L1783.54 625.59 L1784.82 625.59 L1786.11 625.60 L1787.39 625.61 L1788.67 625.61 L1789.96 625.62 L1791.24 625.62 L1792.52 625.63 L1793.81 625.63 L1795.09 625.64 L1796.38 625.64 L1797.66 625.65 L1798.94 625.65 L1800.23 625.66 L1801.51 625.66 L1802.79 625.67 L1804.08 625.67 L1805.36 625.68 L1806.65 625.68 L1807.93 625.69 L1809.21 625.69 L1810.50 625.69 L1811.78 625.70 L1813.07 625.70 L1814.35 625.71 L1815.63 625.71 L1816.92 625.71 L1818.20 625.72 L1819.48 625.72 L1820.77 625.72 L1822.05 625.73 L1823.34 625.73 L1824.62 625.73 L1825.90 625.73 L1827.19 625.74 L1828.47 625.74 L1829.75 625.74 L1831.04 625.75 L1832.32 625.75 L1833.61 625.75 L1834.89 625.75 L1836.17 625.75 L1837.46 625.76 L1838.74 625.76 L1840.03 625.76 L1841.31 625.76 L1842.59 625.77 L1843.88 625.77 L1845.16 625.77 L1846.44 625.77 L1847.73 625.77 L1849.01 625.78 L1850.30 625.78 L1851.58 625.78 L1852.86 625.78 L1854.15 625.78 L1855.43 625.78 L1856.71 625.79 L1858.00 625.79 L1859.28 625.79 L1860.57 625.79 L1861.85 625.79 L1863.13 625.79 L1864.42 625.79 L1865.70 625.80 L1866.99 625.80 L1868.27 625.80 L1869.55 625.80 L1870.84 625.80 L1872.12 625.80 L1873.40 625.80 L1874.69 625.80 L1875.97 625.80 L1877.26 625.81 L1878.54 625.81 L1879.82 625.81 L1881.11 625.81 L1882.39 625.81 L1883.67 625.81 L1884.96 625.81 L1886.24 625.81 L1887.53 625.81 L1888.81 625.81 L1890.09 625.81 L1891.38 625.82 L1892.66 625.82 L1893.94 625.82 L1895.23 625.82 L1896.51 625.82 L1897.80 625.82 L1899.08 625.82 L1900.36 625.82 L1901.65 625.82 L1902.93 625.82 L1904.22 625.82 L1905.50 625.82 L1906.78 625.82 L1908.07 625.82 L1909.35 625.82 L1910.63 625.83 L1911.92 625.83 L1913.20 625.83 L1914.49 625.83 L1915.77 625.83 L1917.05 625.83" stroke="#151515" stroke-width="2.10" stroke-dasharray="6.92 2.99"/>
</g>
<rect x="1161.00" y="82.80" width="761.00" height="571.10" fill="none" stroke="#3a3a3a" stroke-width="1.80"/>
<path d="M1161.00 653.90 v6.50 M1161.00 82.80 v-6.50 M1313.20 653.90 v6.50 M1313.20 82.80 v-6.50 M1465.40 653.90 v6.50 M1465.40 82.80 v-6.50 M1617.60 653.90 v6.50 M1617.60 82.80 v-6.50 M1769.80 653.90 v6.50 M1769.80 82.80 v-6.50 M1922.00 653.90 v6.50 M1922.00 82.80 v-6.50 M1161.00 626.80 h-6.50 M1161.00 572.26 h-6.50 M1161.00 517.72 h-6.50 M1161.00 463.18 h-6.50 M1161.00 408.64 h-6.50 M1161.00 354.10 h-6.50 M1161.00 299.56 h-6.50 M1161.00 245.02 h-6.50 M1161.00 190.48 h-6.50 M1161.00 135.94 h-6.50 M1922.00 252.20 h6.50 M1922.00 342.28 h6.50 M1922.00 432.36 h6.50 M1922.00 522.44 h6.50 M1922.00 612.52 h6.50" stroke="#3a3a3a" stroke-width="1.80" fill="none"/>
<g font-size="35.0">
<text transform="translate(1161.00 692.20) scale(0.9620 1)" text-anchor="middle">0.0</text>
<text transform="translate(1161.00 64.30) scale(0.9620 1)" text-anchor="middle">1.0</text>
<text transform="translate(1313.20 692.20) scale(0.9620 1)" text-anchor="middle">0.2</text>
<text transform="translate(1313.20 64.30) scale(0.9620 1)" text-anchor="middle">0.8</text>
<text transform="translate(1465.40 692.20) scale(0.9620 1)" text-anchor="middle">0.4</text>
<text transform="translate(1465.40 64.30) scale(0.9620 1)" text-anchor="middle">0.6</text>
<text transform="translate(1617.60 692.20) scale(0.9620 1)" text-anchor="middle">0.6</text>
<text transform="translate(1617.60 64.30) scale(0.9620 1)" text-anchor="middle">0.4</text>
<text transform="translate(1769.80 692.20) scale(0.9620 1)" text-anchor="middle">0.8</text>
<text transform="translate(1769.80 64.30) scale(0.9620 1)" text-anchor="middle">0.2</text>
<text transform="translate(1922.00 692.20) scale(0.9620 1)" text-anchor="middle">1.0</text>
<text transform="translate(1922.00 64.30) scale(0.9620 1)" text-anchor="middle">0.0</text>
<text transform="translate(1150.30 640.50) scale(0.9620 1)" text-anchor="end">0</text>
<text transform="translate(1150.30 585.96) scale(0.9620 1)" text-anchor="end">2</text>
<text transform="translate(1150.30 531.42) scale(0.9620 1)" text-anchor="end">4</text>
<text transform="translate(1150.30 476.88) scale(0.9620 1)" text-anchor="end">6</text>
<text transform="translate(1150.30 422.34) scale(0.9620 1)" text-anchor="end">8</text>
<text transform="translate(1148.40 367.80) scale(0.9620 1)" text-anchor="end">10</text>
<text transform="translate(1148.40 313.26) scale(0.9620 1)" text-anchor="end">12</text>
<text transform="translate(1148.40 258.72) scale(0.9620 1)" text-anchor="end">14</text>
<text transform="translate(1148.40 204.18) scale(0.9620 1)" text-anchor="end">16</text>
<text transform="translate(1148.40 149.64) scale(0.9620 1)" text-anchor="end">18</text>
<text transform="translate(1935.20 265.80) scale(0.9620 1)">0.001</text>
<text transform="translate(1935.20 355.88) scale(0.9620 1)">0.280</text>
<text transform="translate(1935.20 445.96) scale(0.9620 1)">0.729</text>
<text transform="translate(1935.20 536.04) scale(0.9620 1)">1.701</text>
<text transform="translate(1935.20 626.12) scale(0.9620 1)">9.577</text>
<text transform="translate(1518.90 29.90) scale(0.9650 1)" xml:space="preserve"><tspan x="-2.38" y="0.00" font-size="35.0" font-style="italic">f</tspan><tspan x="8.68" y="4.60" font-size="24.5">DM</tspan></text>
<text transform="translate(1514.20 734.80) scale(0.9650 1)" xml:space="preserve"><tspan x="-2.38" y="0.00" font-size="35.0" font-style="italic">f</tspan><tspan x="8.70" y="5.20" font-size="24.5">disk</tspan></text>
<text transform="translate(1084.60 472.40) rotate(-90) scale(0.9650 1)" xml:space="preserve"><tspan x="-2.96" y="0.00" font-size="35.0" font-style="italic">τ</tspan><tspan x="17.46" y="5.10" font-size="24.5" font-style="italic">bar</tspan><tspan x="59.31" y="5.10" font-size="24.5" font-style="italic">, </tspan><tspan x="71.00" y="5.10" font-size="24.5" font-style="italic">exp </tspan><tspan x="128.81" y="0.00" font-size="35.0">(Gyr)</tspan></text>
<text transform="translate(2066.80 501.36) rotate(-90) scale(0.9620 1)" font-size="35.0">redshift</text>
<text transform="translate(1507.10 163.90) scale(0.9650 1)" xml:space="preserve"><tspan x="-2.96" y="0.00" font-size="35.0" font-style="italic">τ</tspan><tspan x="17.46" y="4.80" font-size="24.5" font-style="italic">bar</tspan><tspan x="59.31" y="4.80" font-size="24.5" font-style="italic">, </tspan><tspan x="71.00" y="4.80" font-size="24.5" font-style="italic">exp </tspan><tspan x="123.34" y="0.00" font-size="35.0">&gt; </tspan><tspan x="160.77" y="0.00" font-size="35.0" font-style="italic">τ</tspan><tspan x="182.35" y="4.80" font-size="24.5" font-style="italic">Hubble</tspan></text>
</g>
<g font-size="24.0">
<circle cx="1537.80" cy="314.70" r="5.20" stroke="#d62728" stroke-width="2.50" fill="none"/>
<text transform="translate(1579.27 323.30) scale(0.9900 1)" font-size="24.0">Mid mass</text>
<circle cx="1537.80" cy="348.50" r="5.7" fill="#d62728"/>
<text transform="translate(1579.27 357.10) scale(0.9900 1)" font-size="24.0">Mid mass w/gas</text>
<path d="M1512.60 383.80 h47.2" stroke="#151515" stroke-width="2.10" stroke-dasharray="1.87 3.09" fill="none"/>
<text transform="translate(1579.27 392.40) scale(0.9900 1)" font-size="24.0">Exponential fit (mid)</text>
<path d="M1512.60 419.00 h47.2" stroke="#151515" stroke-width="2.10" stroke-dasharray="6.92 2.99" fill="none"/>
<text transform="translate(1579.27 427.60) scale(0.9900 1)" font-size="24.0">Exponential fit (mid w/gas)</text>
</g>
</svg>
</body></html>
